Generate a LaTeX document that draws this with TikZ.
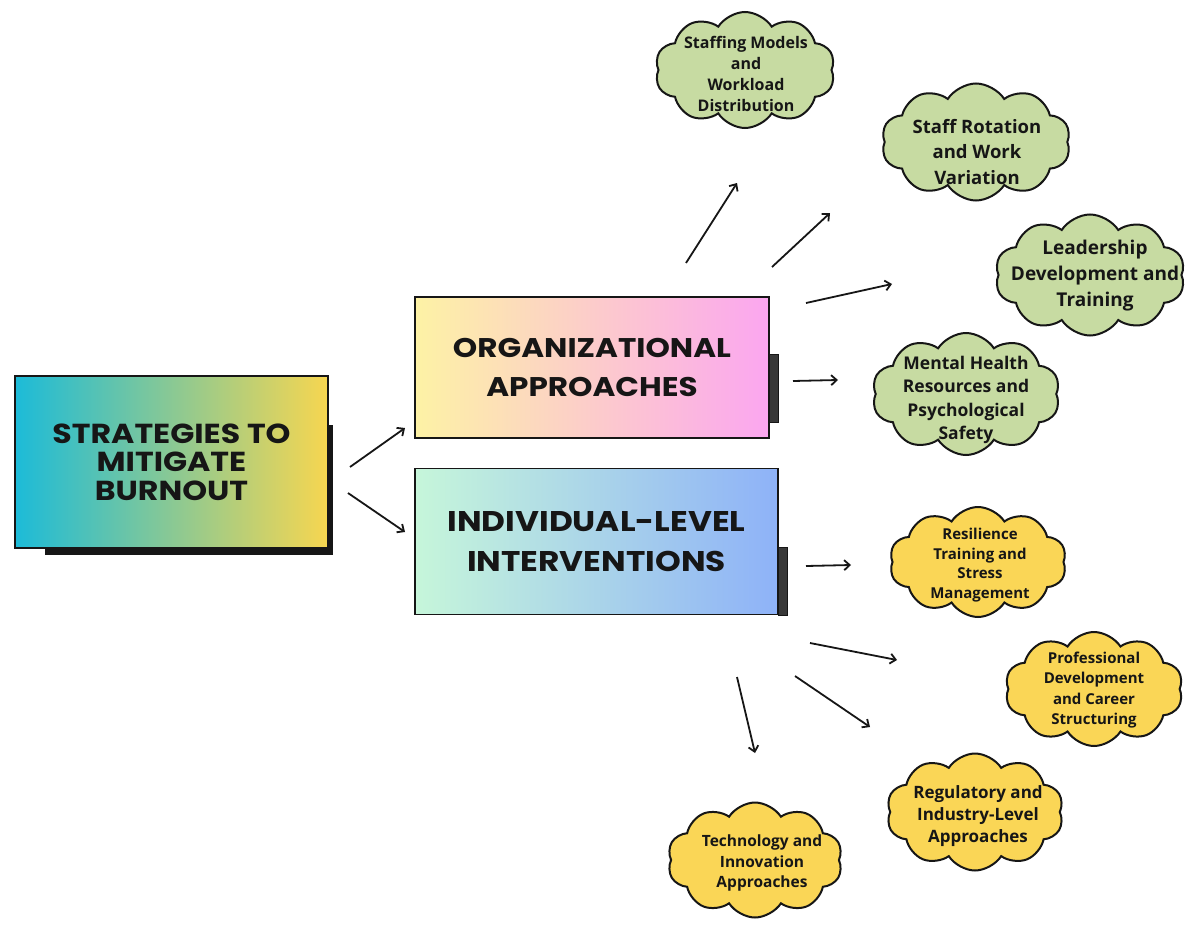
\documentclass[tikz,border=0pt]{standalone}
\usepackage{fontspec}
\setmainfont{Open Sans}
\newfontfamily\pop{Poppins}[FakeStretch=1.15]
\usetikzlibrary{shapes.symbols,arrows.meta}
\definecolor{cgreen}{RGB}{199,219,162}
\definecolor{cyellow}{RGB}{250,214,86}
\definecolor{mA}{RGB}{28,187,216}
\definecolor{mB}{RGB}{140,206,156}
\definecolor{mC}{RGB}{247,214,80}
\definecolor{oA}{RGB}{253,242,165}
\definecolor{oB}{RGB}{251,206,200}
\definecolor{oC}{RGB}{251,166,240}
\definecolor{iA}{RGB}{198,246,218}
\definecolor{iB}{RGB}{174,218,232}
\definecolor{iC}{RGB}{142,178,248}
\definecolor{ink}{RGB}{22,22,22}
\begin{document}
\begin{tikzpicture}[x=1pt,y=-1pt,
  box/.style={draw=ink, line width=1.6pt, inner sep=0pt, align=center, text=ink},
  tab/.style={draw=ink, fill=black!78, line width=1pt},
  cl/.style={cloud, cloud puffs=10, cloud puff arc=115, cloud ignores aspect, draw=ink, line width=2pt, inner sep=0pt},
  clG/.style={cl, fill=cgreen},
  clY/.style={cl, fill=cyellow},
  ct/.style 2 args={align=center, text=ink, inner sep=0pt, font=\bfseries\fontsize{#1}{#2}\selectfont},
  arr/.style={-{Straight Barb[length=5.5pt,width=10pt]}, line width=1.8pt, draw=ink}
]
\useasboundingbox (0,0) rectangle (1200,926);
\fill[white] (0,0) rectangle (1200,926);

% main box
\fill[ink] (45,425) rectangle (333,555);
\node[box, minimum width=313pt, minimum height=172pt, left color=mA, middle color=mB, right color=mC,
  font=\pop\bfseries\fontsize{27.5}{28.5}\selectfont] (main) at (171.5,462) {STRATEGIES TO\\MITIGATE\\BURNOUT};

% organizational
\draw[tab] (769,354) rectangle (778,422);
\node[box, minimum width=354pt, minimum height=141pt, left color=oA, middle color=oB, right color=oC,
  font=\pop\bfseries\fontsize{27}{39}\selectfont] (org) at (592,367.5) {ORGANIZATIONAL\\APPROACHES};

% individual
\draw[tab] (778,547) rectangle (787,615);
\node[box, minimum width=363pt, minimum height=146pt, left color=iA, middle color=iB, right color=iC,
  font=\pop\bfseries\fontsize{28.5}{40}\selectfont] (ind) at (596.5,541.5) {INDIVIDUAL-LEVEL\\INTERVENTIONS};

% green clouds
\node[clG, minimum width=180pt, minimum height=116pt] (c1) at (745,70) {};
\node[ct={16}{21}] (c1t) at (746,74) {Staffing Models\\and\\Workload\\Distribution};
\node[clG, minimum width=189pt, minimum height=117pt] (c2) at (976,142) {};
\node[ct={18.5}{25.5}] (c2t) at (977,152) {Staff Rotation\\and Work\\Variation};
\node[clG, minimum width=190pt, minimum height=121pt] (c3) at (1090,275) {};
\node[ct={19}{26}] (c3t) at (1095,276) {Leadership\\Development and\\Training};
\node[clG, minimum width=188pt, minimum height=122pt] (c4) at (966,394) {};
\node[ct={17.5}{23.5}] (c4t) at (966,400) {Mental Health\\Resources and\\Psychological\\Safety};

% yellow clouds
\node[clY, minimum width=177pt, minimum height=110pt] (c5) at (978,562) {};
\node[ct={15}{19.5}] (c5t) at (980,565) {Resilience\\Training and\\Stress\\Management};
\node[clY, minimum width=178pt, minimum height=114pt] (c6) at (1094,689) {};
\node[ct={15}{20.5}] (c6t) at (1094,690) {Professional\\Development\\and Career\\Structuring};
\node[clY, minimum width=177pt, minimum height=117pt] (c7) at (975,812) {};
\node[ct={17}{22}] (c7t) at (978,816) {Regulatory and\\Industry-Level\\Approaches};
\node[clY, minimum width=175pt, minimum height=115pt] (c8) at (755,860) {};
\node[ct={15.5}{20.5}] (c8t) at (762,863) {Technology and\\Innovation\\Approaches};

% arrow endpoints
\coordinate (m1) at (350,467); \coordinate (m1e) at (405,428);
\coordinate (m2) at (348,493); \coordinate (m2e) at (405,532);
\coordinate (o1) at (686,263); \coordinate (o1e) at (737,183);
\coordinate (o2) at (772,267); \coordinate (o2e) at (830,213);
\coordinate (o3) at (806,303); \coordinate (o3e) at (892,284);
\coordinate (o4) at (793,381); \coordinate (o4e) at (838,380);
\coordinate (i1) at (806,566); \coordinate (i1e) at (851,565);
\coordinate (i2) at (810,643); \coordinate (i2e) at (897,660);
\coordinate (i3) at (795,676); \coordinate (i3e) at (870,727);
\coordinate (i4) at (737,677); \coordinate (i4e) at (755,753);

\draw[arr] (m1) -- (m1e);
\draw[arr] (m2) -- (m2e);
\draw[arr] (o1) -- (o1e);
\draw[arr] (o2) -- (o2e);
\draw[arr] (o3) -- (o3e);
\draw[arr] (o4) -- (o4e);
\draw[arr] (i1) -- (i1e);
\draw[arr] (i2) -- (i2e);
\draw[arr] (i3) -- (i3e);
\draw[arr] (i4) -- (i4e);
\end{tikzpicture}
\end{document}
